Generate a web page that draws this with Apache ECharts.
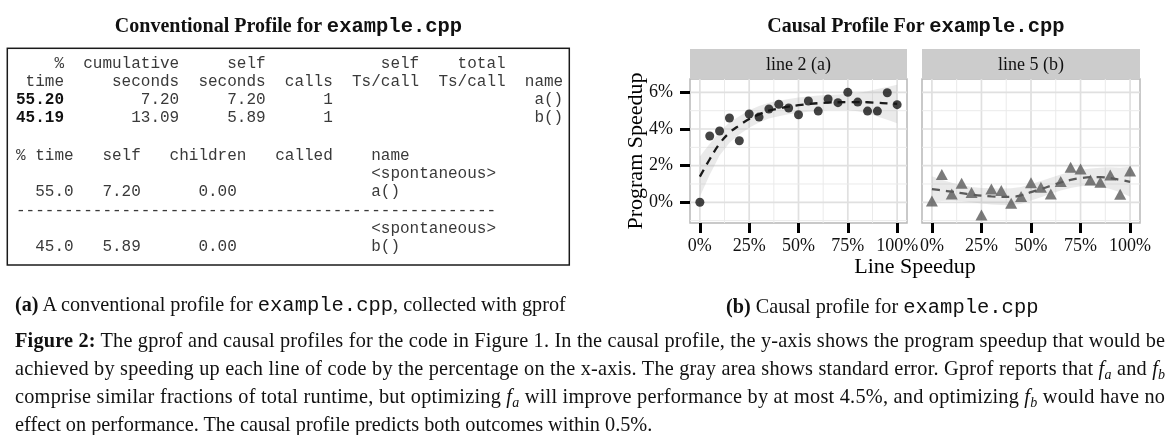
<!DOCTYPE html>
<html><head><meta charset="utf-8">
<script src="https://cdn.jsdelivr.net/npm/echarts@6.0.0/dist/echarts.min.js"></script>
<style>
html,body{margin:0;padding:0;background:#fff;}
#wrap{position:relative;width:1172px;height:435px;overflow:hidden;background:#fff;}
#chart{position:absolute;left:0;top:0;width:1172px;height:435px;}
#overlay{position:absolute;left:0;top:0;pointer-events:none;}
</style></head><body>
<div id="wrap"><div id="chart"></div><svg id="overlay" width="1172" height="435" xmlns="http://www.w3.org/2000/svg"></svg></div>
<script>
// ---------------- data ----------------
const lineSpeedup = [0,5,10,15,20,25,30,35,40,45,50,55,60,65,70,75,80,85,90,95,100];
const line2Points = [0.00,3.62,3.89,4.60,3.36,4.82,4.65,5.09,5.35,5.15,4.78,5.53,4.98,5.64,5.44,6.00,5.47,4.98,4.98,5.98,5.33];
const line5Points = [0.07,1.52,0.45,1.04,0.53,-0.69,0.73,0.65,-0.05,0.31,1.07,0.82,0.45,1.13,1.91,1.82,1.22,1.09,1.49,0.44,1.71];
const line2Fit   = [1.40,2.35,3.20,3.80,4.20,4.55,4.80,5.00,5.12,5.22,5.30,5.36,5.41,5.44,5.46,5.47,5.47,5.46,5.43,5.40,5.37];
const line2Lower = [0.30,1.50,2.55,3.25,3.70,4.07,4.35,4.57,4.70,4.80,4.88,4.94,4.99,5.02,5.03,5.02,4.97,4.86,4.68,4.50,4.32];
const line2Upper = [2.50,3.20,3.85,4.35,4.70,5.03,5.25,5.43,5.54,5.64,5.72,5.78,5.83,5.86,5.89,5.92,5.97,6.06,6.18,6.30,6.42];
const line5Fit   = [0.72,0.65,0.58,0.50,0.42,0.36,0.32,0.30,0.30,0.38,0.55,0.72,0.90,1.08,1.22,1.32,1.37,1.37,1.32,1.22,1.12];
const line5Lower = [0.02,0.07,0.09,0.06,0.00,-0.06,-0.12,-0.15,-0.16,-0.08,0.10,0.28,0.46,0.64,0.78,0.87,0.90,0.85,0.73,0.55,0.30];
const line5Upper = [1.42,1.23,1.07,0.94,0.84,0.78,0.76,0.75,0.76,0.84,1.00,1.16,1.34,1.52,1.66,1.77,1.84,1.89,1.91,1.89,1.94];
const xTicks = [0,25,50,75,100];
const xMinor = [12.5,37.5,62.5,87.5];
const yTicks = [0,2,4,6];
const yMinor = [-1,1,3,5];
const facetLabels = ['line 2 (a)','line 5 (b)'];
const xTitle = 'Line Speedup';
const yTitle = 'Program Speedup';

// ---------------- chart ----------------
const SERIF = '"Liberation Serif","Times New Roman",serif';
const chart = echarts.init(document.getElementById('chart'), null, {renderer:'canvas'});
const grids = [
  {left:690, top:79, width:217, height:144},
  {left:922, top:79, width:218, height:144}
];
function pairs(xs, ys){ return xs.map((x,i)=>[x, ys[i]]); }
function gridData(){
  const d = [];
  xTicks.forEach(v=>d.push([v,0,0]));
  xMinor.forEach(v=>d.push([v,0,1]));
  yTicks.forEach(v=>d.push([0,v,2]));
  yMinor.forEach(v=>d.push([0,v,3]));
  return d;
}
function gridSeries(idx){
  return {
    type:'custom', xAxisIndex:idx, yAxisIndex:idx, z:1, silent:true, clip:false,
    data: gridData(),
    renderItem:(params, api)=>{
      const cs = params.coordSys;
      const kind = api.value(2);
      const major = (kind===0 || kind===2);
      const style = {stroke: major ? '#e0e0e0' : '#eaeaea', lineWidth: major ? 1.7 : 1.0};
      if (kind < 2) {
        const p = api.coord([api.value(0), 0]);
        return {type:'line', shape:{x1:p[0], y1:cs.y, x2:p[0], y2:cs.y+cs.height}, style};
      }
      const p = api.coord([0, api.value(1)]);
      return {type:'line', shape:{x1:cs.x, y1:p[1], x2:cs.x+cs.width, y2:p[1]}, style};
    }
  };
}
function bandSeries(idx, lo, hi){
  return {
    type:'custom', xAxisIndex:idx, yAxisIndex:idx, z:2, silent:true,
    data:[[lineSpeedup[0], lo[0]]],
    renderItem:(params, api)=>{
      const pts = [];
      for (let i=0;i<lineSpeedup.length;i++) pts.push(api.coord([lineSpeedup[i], hi[i]]));
      for (let i=lineSpeedup.length-1;i>=0;i--) pts.push(api.coord([lineSpeedup[i], lo[i]]));
      return {type:'polygon', shape:{points:pts}, style:{fill:'rgba(175,175,175,0.26)', stroke:null}};
    }
  };
}
function xAxisOf(idx){
  return {
    type:'value', gridIndex:idx, min:-5, max:105,
    axisLine:{show:false, onZero:false},
    axisTick:{show:true, inside:false, length:10, customValues:xTicks, lineStyle:{color:'#000', width:3}},
    axisLabel:{show:true, customValues:xTicks, margin:14, formatter:v=>v+'%', color:'#111', fontFamily:SERIF, fontSize:18},
    splitLine:{show:false}, minorSplitLine:{show:false}
  };
}
function yAxisOf(idx){
  const show = idx===0;
  return {
    type:'value', gridIndex:idx, min:-1.13, max:6.73,
    axisLine:{show:false, onZero:false},
    axisTick:{show:show, inside:false, length:10, customValues:yTicks, lineStyle:{color:'#000', width:3}},
    axisLabel:{show:show, customValues:yTicks, margin:17, formatter:v=>v+'%', color:'#111', fontFamily:SERIF, fontSize:18},
    splitLine:{show:false}, minorSplitLine:{show:false}
  };
}
const option = {
  animation:false,
  backgroundColor:'transparent',
  grid: grids.map(g=>Object.assign({show:true, borderColor:'#b8b8b8', borderWidth:1.5, backgroundColor:'#fff', containLabel:false}, g)),
  xAxis:[xAxisOf(0), xAxisOf(1)],
  yAxis:[yAxisOf(0), yAxisOf(1)],
  graphic:[
    {type:'rect', shape:{x:690, y:49, width:217, height:30}, style:{fill:'#cccccc'}},
    {type:'rect', shape:{x:922, y:49, width:218, height:30}, style:{fill:'#cccccc'}},
    {type:'text', x:798.5, y:65, style:{text:facetLabels[0], font:'18px '+SERIF, fill:'#111', align:'center', verticalAlign:'middle'}},
    {type:'text', x:1031, y:65, style:{text:facetLabels[1], font:'18px '+SERIF, fill:'#111', align:'center', verticalAlign:'middle'}},
    {type:'text', x:915, y:267, style:{text:xTitle, font:'22px '+SERIF, fill:'#000', align:'center', verticalAlign:'middle'}},
    {type:'text', x:636, y:151, rotation:Math.PI/2, style:{text:yTitle, font:'22px '+SERIF, fill:'#000', align:'center', verticalAlign:'middle'}}
  ],
  series:[
    gridSeries(0), gridSeries(1),
    bandSeries(0, line2Lower, line2Upper),
    bandSeries(1, line5Lower, line5Upper),
    {type:'line', xAxisIndex:0, yAxisIndex:0, z:3, data:pairs(lineSpeedup, line2Fit), smooth:0.4, showSymbol:false, silent:true,
      lineStyle:{color:'#1a1a1a', width:2.3, type:[8,6]}},
    {type:'line', xAxisIndex:1, yAxisIndex:1, z:3, data:pairs(lineSpeedup, line5Fit), smooth:0.4, showSymbol:false, silent:true,
      lineStyle:{color:'#5a5a5a', width:2.3, type:[8,6]}},
    {type:'scatter', xAxisIndex:0, yAxisIndex:0, z:4, data:pairs(lineSpeedup, line2Points), symbol:'circle', symbolSize:9,
      itemStyle:{color:'#141414'}},
    {type:'scatter', xAxisIndex:1, yAxisIndex:1, z:4, data:pairs(lineSpeedup, line5Points), symbol:'triangle', symbolSize:[12,11],
      itemStyle:{color:'#5a5a5a'}}
  ]
};
chart.setOption(option);

// ---------------- static text (table & captions) ----------------
const MONO = "'Liberation Mono','DejaVu Sans Mono',monospace";
const SER = "'Liberation Serif','Times New Roman',serif";
const tableRows = [
  {y:68.3, t:[[4,'%'],[7,'cumulative'],[22,'self'],[38,'self'],[46,'total']]},
  {y:86.3, t:[[1,'time'],[10,'seconds'],[19,'seconds'],[28,'calls'],[35,'Ts/call'],[44,'Ts/call'],[53,'name']]},
  {y:104.3, t:[[0,'55.20',1],[13,'7.20'],[22,'7.20'],[32,'1'],[54,'a()']]},
  {y:122.3, t:[[0,'45.19',1],[12,'13.09'],[22,'5.89'],[32,'1'],[54,'b()']]},
  {y:160.0, t:[[0,'% time'],[9,'self'],[16,'children'],[27,'called'],[37,'name']]},
  {y:178.2, t:[[37,'<spontaneous>']]},
  {y:196.4, t:[[2,'55.0'],[9,'7.20'],[19,'0.00'],[37,'a()']]},
  {y:214.6, t:[[0,'-'.repeat(50)]]},
  {y:232.8, t:[[37,'<spontaneous>']]},
  {y:251.0, t:[[2,'45.0'],[9,'5.89'],[19,'0.00'],[37,'b()']]}
];
function esc(s){ return s.replace(/&/g,'&amp;').replace(/</g,'&lt;').replace(/>/g,'&gt;'); }
let svg = '';
svg += `<rect x="7.3" y="48.3" width="562" height="216.7" fill="none" stroke="#1a1a1a" stroke-width="1.5"/>`;
const X0 = 16, ADV = 9.6;
tableRows.forEach(r=>{
  r.t.forEach(tk=>{
    const bold = tk[2] ? ' font-weight="bold" fill="#111"' : ' fill="#3a3a3a"';
    svg += `<text x="${X0+tk[0]*ADV}" y="${r.y}" font-family="${MONO}" font-size="16" style="white-space:pre"${bold}>${esc(tk[1])}</text>`;
  });
});
// titles
svg += `<text x="288.5" y="31.7" text-anchor="middle" font-family="${SER}" font-size="20" font-weight="bold" fill="#111">Conventional Profile for <tspan font-family="${MONO}" font-size="20.5" font-weight="bold">example.cpp</tspan></text>`;
svg += `<text x="915.9" y="31.7" text-anchor="middle" font-family="${SER}" font-size="20" font-weight="bold" fill="#111">Causal Profile For <tspan font-family="${MONO}" font-size="20.5" font-weight="bold">example.cpp</tspan></text>`;
// subcaptions
svg += `<text x="15" y="310.5" font-family="${SER}" font-size="20.2" fill="#111"><tspan font-weight="bold">(a)</tspan> A conventional profile for <tspan font-family="${MONO}" font-size="20.5">example.cpp</tspan>, collected with gprof</text>`;
svg += `<text x="726" y="313.3" font-family="${SER}" font-size="20.2" fill="#111"><tspan font-weight="bold">(b)</tspan> Causal profile for <tspan font-family="${MONO}" font-size="20.5">example.cpp</tspan></text>`;
// figure caption
const fa = `<tspan font-style="italic">f</tspan><tspan font-style="italic" font-size="14" baseline-shift="-4">a</tspan>`;
const fb = `<tspan font-style="italic">f</tspan><tspan font-style="italic" font-size="14" baseline-shift="-4">b</tspan>`;
const captionLines = [
  {y:347, j:true, h:`<tspan font-weight="bold">Figure 2:</tspan> The gprof and causal profiles for the code in Figure 1. In the causal profile, the y-axis shows the program speedup that would be`},
  {y:375.2, j:true, h:`achieved by speeding up each line of code by the percentage on the x-axis. The gray area shows standard error. Gprof reports that ${fa} and ${fb}`},
  {y:403.4, j:true, h:`comprise similar fractions of total runtime, but optimizing ${fa} will improve performance by at most 4.5%, and optimizing ${fb} would have no`},
  {y:430.6, j:false, h:`effect on performance. The causal profile predicts both outcomes within 0.5%.`}
];
captionLines.forEach(c=>{
  const tl = c.j ? ' textLength="1150" lengthAdjust="spacing"' : '';
  svg += `<text x="15" y="${c.y}" font-family="${SER}" font-size="20.3" fill="#111"${tl}>${c.h}</text>`;
});
document.getElementById('overlay').innerHTML = svg;
</script>
</body></html>
